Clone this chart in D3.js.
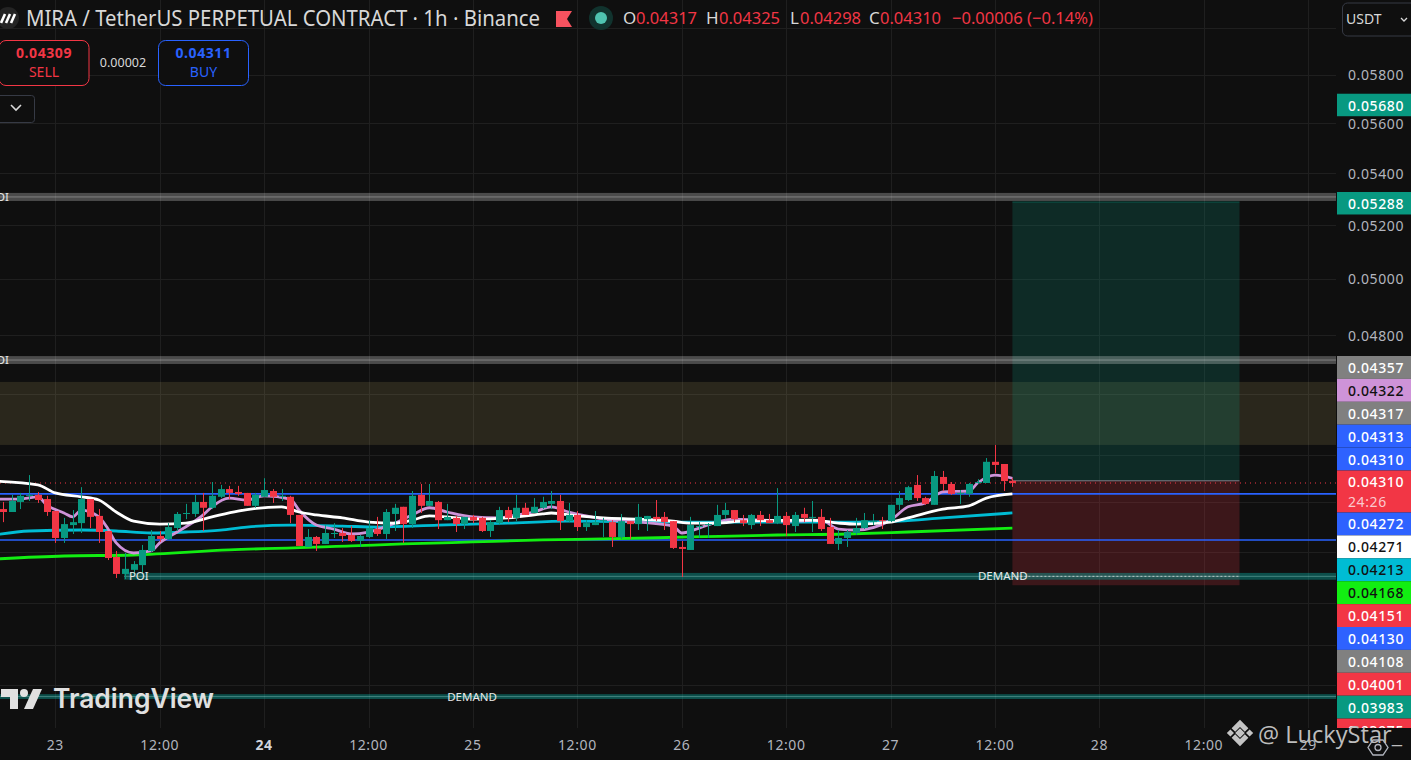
<!DOCTYPE html>
<html lang="en">
  <head>
    <meta charset="UTF-8" />
    <title>MIRA / TetherUS 1h</title>
    <script src="https://d3js.org/d3.v7.min.js"></script>
    <style>
      html, body { margin: 0; background: #0f0f0f; overflow: hidden; }
      svg { display: block; }
      text { font-family: "Noto Sans", sans-serif; }
      .axis text { fill: #b2b5be; font-size: 14px; letter-spacing: 0.6px; }
      .axis path { display: none; }
    </style>
  </head>
  <body>
    <svg id="chart" width="1411" height="760"></svg>
    <script>
      // hourly candles, first one is 18:00 on the 22nd, hour 0 = the 23rd 00:00
      const firstHour = -6
      const candleOpen = [
        0.04229,0.04220,0.04251,0.04270,0.04273,0.04260,
        0.04223,0.04141,0.04180,0.04186,0.04260,0.04208,0.04162,0.04084,0.04034,0.04046,
        0.04060,0.04102,0.04147,0.04138,0.04171,0.04214,0.04214,0.04251,0.04233,0.04267,
        0.04291,0.04282,0.04279,0.04239,0.04267,0.04285,0.04267,0.04267,0.04211,0.04114,
        0.04144,0.04123,0.04153,0.04156,0.04150,0.04132,0.04144,0.04168,0.04153,0.04214,
        0.04236,0.04183,0.04273,0.04239,0.04251,0.04195,0.04202,0.04183,0.04205,0.04202,
        0.04162,0.04186,0.04226,0.04202,0.04233,0.04217,0.04233,0.04245,0.04254,0.04192,
        0.04211,0.04174,0.04180,0.04192,0.04189,0.04144,0.04192,0.04183,0.04198,0.04205,
        0.04205,0.04192,0.04114,0.04105,0.04174,0.04180,0.04177,0.04211,0.04226,0.04195,
        0.04180,0.04211,0.04195,0.04186,0.04208,0.04177,0.04214,0.04202,0.04205,0.04174,
        0.04123,0.04141,0.04156,0.04171,0.04189,0.04195,0.04192,0.04242,0.04257,0.04304,
        0.04263,0.04242,0.04329,0.04307,0.04276,0.04276,0.04310,0.04310,0.04377,0.04370,0.04317
      ]
      const candleHigh = [
        0.04251,0.04273,0.04279,0.04335,0.04282,0.04270,
        0.04223,0.04202,0.04226,0.04297,0.04260,0.04229,0.04162,0.04102,0.04096,0.04072,
        0.04120,0.04165,0.04162,0.04186,0.04220,0.04245,0.04273,0.04279,0.04313,0.04304,
        0.04301,0.04301,0.04279,0.04279,0.04325,0.04291,0.04291,0.04270,0.04211,0.04168,
        0.04147,0.04180,0.04186,0.04171,0.04177,0.04150,0.04195,0.04205,0.04229,0.04245,
        0.04236,0.04285,0.04307,0.04307,0.04254,0.04245,0.04208,0.04205,0.04211,0.04205,
        0.04195,0.04236,0.04236,0.04273,0.04248,0.04263,0.04267,0.04285,0.04273,0.04248,
        0.04223,0.04195,0.04223,0.04202,0.04195,0.04214,0.04192,0.04245,0.04208,0.04257,
        0.04220,0.04192,0.04132,0.04205,0.04189,0.04186,0.04242,0.04248,0.04226,0.04211,
        0.04214,0.04223,0.04214,0.04294,0.04220,0.04220,0.04233,0.04254,0.04229,0.04202,
        0.04165,0.04165,0.04202,0.04217,0.04214,0.04205,0.04242,0.04285,0.04301,0.04335,
        0.04267,0.04348,0.04348,0.04313,0.04288,0.04310,0.04322,0.04389,0.04431,0.04370,0.04325
      ]
      const candleLow = [
        0.04189,0.04220,0.04229,0.04254,0.04248,0.04208,
        0.04126,0.04126,0.04153,0.04156,0.04171,0.04126,0.04075,0.04022,0.04019,0.04034,
        0.04037,0.04099,0.04129,0.04135,0.04162,0.04198,0.04205,0.04162,0.04229,0.04263,
        0.04260,0.04270,0.04239,0.04233,0.04267,0.04248,0.04254,0.04186,0.04117,0.04114,
        0.04102,0.04123,0.04141,0.04129,0.04129,0.04114,0.04141,0.04147,0.04138,0.04162,
        0.04126,0.04171,0.04217,0.04239,0.04168,0.04195,0.04159,0.04168,0.04186,0.04159,
        0.04144,0.04180,0.04189,0.04192,0.04211,0.04217,0.04229,0.04229,0.04165,0.04189,
        0.04162,0.04162,0.04180,0.04144,0.04114,0.04138,0.04138,0.04165,0.04162,0.04192,
        0.04165,0.04108,0.04025,0.04105,0.04141,0.04141,0.04177,0.04198,0.04189,0.04177,
        0.04168,0.04177,0.04186,0.04183,0.04147,0.04159,0.04189,0.04159,0.04162,0.04123,
        0.04105,0.04114,0.04150,0.04168,0.04180,0.04168,0.04189,0.04226,0.04254,0.04254,
        0.04242,0.04242,0.04285,0.04273,0.04245,0.04267,0.04307,0.04310,0.04341,0.04285,0.04298
      ]
      const candleClose = [
        0.04220,0.04254,0.04270,0.04273,0.04257,0.04220,
        0.04141,0.04183,0.04189,0.04260,0.04205,0.04159,0.04081,0.04034,0.04049,0.04063,
        0.04105,0.04147,0.04138,0.04174,0.04214,0.04217,0.04251,0.04233,0.04270,0.04291,
        0.04279,0.04276,0.04239,0.04273,0.04288,0.04267,0.04270,0.04211,0.04117,0.04144,
        0.04123,0.04156,0.04156,0.04147,0.04132,0.04147,0.04171,0.04153,0.04220,0.04233,
        0.04183,0.04270,0.04239,0.04254,0.04195,0.04205,0.04183,0.04205,0.04195,0.04162,
        0.04189,0.04226,0.04202,0.04233,0.04211,0.04236,0.04251,0.04254,0.04192,0.04211,
        0.04174,0.04186,0.04189,0.04195,0.04144,0.04192,0.04183,0.04205,0.04208,0.04198,
        0.04189,0.04111,0.04108,0.04180,0.04177,0.04183,0.04211,0.04226,0.04198,0.04186,
        0.04211,0.04195,0.04186,0.04208,0.04180,0.04211,0.04202,0.04205,0.04168,0.04123,
        0.04141,0.04159,0.04171,0.04195,0.04192,0.04192,0.04242,0.04263,0.04297,0.04263,
        0.04245,0.04332,0.04307,0.04276,0.04279,0.04307,0.04313,0.04377,0.04367,0.04316,0.04310
      ]

      const purpleHours = [-7,-4,-2,-1,1,2,3,5,6,7,9,11,12,14,17,18,20,22,24,27,28,30,32,34,36,39,41,43,45,48,51,53,55,57,59,61,63,67,71,72,74,76,78,81,85,88,90,92,96,98,100,102,105,106,108,110]
      const purpleValues = [0.04260,0.04260,0.04267,0.04242,0.04217,0.04205,0.04226,0.04205,0.04171,0.04126,0.04096,0.04102,0.04126,0.04159,0.04211,0.04236,0.04263,0.04257,0.04270,0.04260,0.04226,0.04180,0.04168,0.04153,0.04159,0.04186,0.04211,0.04233,0.04220,0.04205,0.04202,0.04211,0.04220,0.04236,0.04220,0.04208,0.04198,0.04189,0.04177,0.04156,0.04171,0.04189,0.04198,0.04195,0.04192,0.04195,0.04168,0.04165,0.04195,0.04236,0.04248,0.04282,0.04285,0.04310,0.04335,0.04325]
      const whiteHours = [-7,-2,0,3,5,7,9,12,15,18,21,26,28,30,33,36,39,41,43,45,48,52,56,57,60,63,67,71,73,76,79,87,90,92,96,98,102,105,107,110]
      const whiteValues = [0.04316,0.04304,0.04279,0.04267,0.04257,0.04220,0.04192,0.04183,0.04186,0.04205,0.04223,0.04236,0.04220,0.04211,0.04202,0.04189,0.04186,0.04195,0.04208,0.04205,0.04198,0.04202,0.04214,0.04217,0.04208,0.04202,0.04198,0.04192,0.04186,0.04186,0.04192,0.04195,0.04186,0.04183,0.04189,0.04202,0.04229,0.04239,0.04263,0.04276]
      const cyanHours = [-7,-3,3,7,11,15,19,22,27,33,37,44,52,59,71,87,92,97,102,110]
      const cyanValues = [0.04150,0.04162,0.04165,0.04162,0.04156,0.04159,0.04165,0.04174,0.04180,0.04177,0.04174,0.04180,0.04186,0.04192,0.04189,0.04189,0.04189,0.04192,0.04202,0.04217]
      const greenHours = [-7,1,9,20,34,40,48,56,63,73,83,91,98,110]
      const greenValues = [0.04078,0.04087,0.04090,0.04105,0.04117,0.04123,0.04129,0.04135,0.04138,0.04144,0.04150,0.04153,0.04159,0.04171]

      // levels and zones drawn on the chart
      const blueLevels = [0.04276, 0.04135]
      const lastPrice = 0.0431
      const poiBands = [[0.05323, 0.05292], [0.04727, 0.047]]
      const demandBands = [[0.04037, 0.04017], [0.03696, 0.03683]]
      const demandStartHours = [7.9, -7]
      const yellowZone = [0.04639, 0.04431]
      const positionHours = [110, 136.1]
      const takeProfit = 0.05288
      const entryPrice = 0.04317
      const stopLoss = 0.04001

      // axes
      const gridPrices = [0.06,0.058,0.056,0.054,0.052,0.05,0.048,0.046,0.044,0.0425,0.041,0.0395,0.0383,0.0372]
      const priceTicks = [0.058,0.056,0.054,0.052,0.05,0.048]
      const timeTickHours = [0,12,24,36,48,60,72,84,96,108,120,132,144]
      const timeTickLabels = ['23','12:00','24','12:00','25','12:00','26','12:00','27','12:00','28','12:00','29']

      // the pile of price tags on the right
      const tagLabels = ['0.04357','0.04322','0.04317','0.04313','0.04310','0.04310','0.04272','0.04271','0.04213','0.04168','0.04151','0.04130','0.04108','0.04001','0.03983','0.03975']
      const tagColors = ['#808080','#ce93d8','#808080','#2e62ff','#2e62ff','#f23645','#2e62ff','#ffffff','#00bcd4','#12ee12','#f23645','#2e62ff','#808080','#f23645','#089981','#f23645']
      const tagTextColors = ['#fff','#111','#fff','#fff','#fff','#fff','#fff','#111','#111','#111','#fff','#fff','#fff','#fff','#fff','#fff']

      const headerKeys = ['O','H','L','C']
      const headerValues = ['0.04317','0.04325','0.04298','0.04310']

      const plotRight = 1336, plotBottom = 728
      const up = '#089981', down = '#f23645', blue = '#2962ff'

      const svg = d3.select('#chart')
      const x = d3.scaleLinear().domain([0, 108]).range([55.3, 995])
      const y = d3.scaleLog().domain([0.058, lastPrice]).range([75, 483])

      svg.append('clipPath').attr('id', 'plot').append('rect')
        .attr('width', plotRight).attr('height', plotBottom)
      svg.append('clipPath').attr('id', 'axisclip').append('rect')
        .attr('x', plotRight).attr('width', 80).attr('height', plotBottom)

      const plot = svg.append('g').attr('clip-path', 'url(#plot)')

      // grid
      plot.selectAll('.hgrid').data(gridPrices).enter().append('line')
        .attr('x1', 0).attr('x2', plotRight)
        .attr('y1', d => Math.round(y(d)) + 0.5).attr('y2', d => Math.round(y(d)) + 0.5)
        .attr('stroke', '#1f1f1f')
      plot.selectAll('.vgrid').data(timeTickHours).enter().append('line')
        .attr('x1', d => Math.round(x(d)) + 0.5).attr('x2', d => Math.round(x(d)) + 0.5)
        .attr('y1', 0).attr('y2', plotBottom)
        .attr('stroke', '#1f1f1f')

      // yellow zone
      plot.append('rect')
        .attr('x', 0).attr('width', plotRight)
        .attr('y', y(yellowZone[0])).attr('height', y(yellowZone[1]) - y(yellowZone[0]))
        .attr('fill', 'rgba(230,210,120,0.125)')

      // long position box
      const px0 = x(positionHours[0]), px1 = x(positionHours[1])
      plot.append('rect').attr('x', px0).attr('width', px1 - px0)
        .attr('y', y(takeProfit)).attr('height', y(entryPrice) - y(takeProfit))
        .attr('fill', 'rgba(8,153,129,0.2)')
      plot.append('line').attr('x1', px0).attr('x2', px1)
        .attr('y1', y(takeProfit)).attr('y2', y(takeProfit))
        .attr('stroke', 'rgba(8,153,129,0.45)')
      plot.append('rect').attr('x', px0).attr('width', px1 - px0)
        .attr('y', y(entryPrice)).attr('height', y(stopLoss) - y(entryPrice))
        .attr('fill', 'rgba(242,54,69,0.2)')
      plot.append('line').attr('x1', px0).attr('x2', px1)
        .attr('y1', y(entryPrice)).attr('y2', y(entryPrice))
        .attr('stroke', '#787b86').attr('stroke-width', 1)

      // poi and demand bands
      function band(d, start, fill, center) {
        const x0 = start === null ? 0 : x(start)
        plot.append('rect').attr('x', x0).attr('width', plotRight - x0)
          .attr('y', y(d[0])).attr('height', y(d[1]) - y(d[0])).attr('fill', fill)
        plot.append('line').attr('x1', x0).attr('x2', plotRight)
          .attr('y1', (y(d[0]) + y(d[1])) / 2).attr('y2', (y(d[0]) + y(d[1])) / 2)
          .attr('stroke', center)
      }
      poiBands.forEach(d => band(d, null, 'rgba(255,255,255,0.25)', 'rgba(255,255,255,0.3)'))
      demandBands.forEach((d, i) => band(d, demandStartHours[i], 'rgba(10,170,160,0.42)', 'rgba(200,255,250,0.3)'))
      plot.append('line').attr('x1', px0).attr('x2', px1)
        .attr('y1', d3.mean(demandBands[0].map(y))).attr('y2', d3.mean(demandBands[0].map(y)))
        .attr('stroke', '#b8c4c4').attr('stroke-dasharray', '2 2')

      // blue levels
      plot.selectAll('.level').data(blueLevels).enter().append('line')
        .attr('x1', 0).attr('x2', plotRight)
        .attr('y1', d => y(d)).attr('y2', d => y(d))
        .attr('stroke', blue).attr('stroke-width', 1.6)

      // last price dots
      plot.append('line').attr('x1', 0).attr('x2', plotRight)
        .attr('y1', y(lastPrice)).attr('y2', y(lastPrice))
        .attr('stroke', down).attr('stroke-dasharray', '1 4')

      // moving averages
      const maLine = d3.line().x(d => x(d[0])).y(d => y(d[1])).curve(d3.curveMonotoneX)
      const maSeries = [
        [greenHours, greenValues, '#12ee12'],
        [cyanHours, cyanValues, '#00bcd4'],
        [purpleHours, purpleValues, '#ce93d8'],
        [whiteHours, whiteValues, '#ffffff']
      ]
      maSeries.forEach(s => {
        plot.append('path')
          .datum(d3.zip(s[0], s[1]))
          .attr('fill', 'none').attr('stroke', s[2]).attr('stroke-width', 2.8)
          .attr('d', maLine)
      })

      // candles
      const candles = plot.selectAll('.candle').data(candleOpen).enter().append('g')
      const colorOf = (d, i) => (candleClose[i] >= d ? up : down)
      const hourOf = i => firstHour + i
      candles.append('line')
        .attr('x1', (d, i) => Math.round(x(hourOf(i))) + 0.5)
        .attr('x2', (d, i) => Math.round(x(hourOf(i))) + 0.5)
        .attr('y1', (d, i) => y(candleHigh[i]))
        .attr('y2', (d, i) => y(candleLow[i]))
        .attr('stroke', colorOf)
      candles.append('rect')
        .attr('x', (d, i) => Math.round(x(hourOf(i))) - 3)
        .attr('width', 7)
        .attr('y', (d, i) => y(Math.max(d, candleClose[i])))
        .attr('height', (d, i) => Math.max(1, Math.abs(y(d) - y(candleClose[i]))))
        .attr('fill', colorOf)

      // zone captions
      const caption = (px, price, txt, anchor) =>
        plot.append('text').attr('x', px).attr('y', y(price)).attr('dy', '0.35em')
          .attr('text-anchor', anchor || 'middle')
          .attr('fill', '#e8e8e8').attr('font-size', 11.5)
          .text(txt)
      caption(9, d3.mean(poiBands[0]), 'POI', 'end')
      caption(9, d3.mean(poiBands[1]), 'POI', 'end')
      caption(x(9.6), d3.mean(demandBands[0]), 'POI')
      caption(x(108.9), d3.mean(demandBands[0]), 'DEMAND')
      caption(x(47.9), d3.mean(demandBands[1]), 'DEMAND')

      // axes
      svg.append('g').attr('class', 'axis')
        .attr('transform', 'translate(' + plotRight + ',0.5)')
        .call(d3.axisRight(y).tickValues(priceTicks).tickSize(0).tickPadding(12).tickFormat(d3.format('.5f')))
      const timeAxis = svg.append('g').attr('class', 'axis')
        .attr('transform', 'translate(-0.5,' + plotBottom + ')')
        .call(d3.axisBottom(x).tickValues(timeTickHours).tickSize(0).tickPadding(12)
          .tickFormat((d, i) => timeTickLabels[i]))
      timeAxis.selectAll('text').filter(d => d === 24).attr('font-weight', 700).style('fill', '#d1d4dc')

      // single tags above the pile
      function tag(g, top, h, fill, color, txt) {
        g.append('rect').attr('x', plotRight + 1).attr('y', top).attr('width', 75).attr('height', h).attr('fill', fill)
        g.append('text').attr('x', plotRight + 12).attr('y', top + 12).attr('dy', '0.35em')
          .attr('fill', color).attr('font-size', 14).attr('font-weight', 500).attr('letter-spacing', 0.6)
          .text(txt)
      }
      tag(svg, y(0.0568) - 10, 22.5, up, '#fff', '0.05680')
      tag(svg, y(takeProfit) - 10, 22.5, up, '#fff', '0.05288')

      const pile = svg.append('g').attr('clip-path', 'url(#axisclip)')
      let tagTop = 356
      tagLabels.forEach((t, i) => {
        const h = i === 5 ? 42 : 22.9
        tag(pile, tagTop, h, tagColors[i], tagTextColors[i], t)
        if (i === 5) {
          pile.append('text').attr('x', plotRight + 12).attr('y', tagTop + 32).attr('dy', '0.35em')
            .attr('fill', '#fbc9ce').attr('font-size', 14).attr('letter-spacing', 0.6).text('24:26')
        }
        tagTop += h
      })

      // header
      svg.append('circle').attr('cx', 8).attr('cy', 18).attr('r', 11).attr('fill', '#242424')
      ;[3, 8, 13].forEach(d => {
        svg.append('line').attr('x1', d - 2).attr('x2', d + 2).attr('y1', 23).attr('y2', 14)
          .attr('stroke', '#fff').attr('stroke-width', 2.6)
      })
      svg.append('text').attr('x', 26).attr('y', 26)
        .attr('font-size', 21).attr('fill', '#d8d8d8')
        .attr('textLength', 514).attr('lengthAdjust', 'spacingAndGlyphs')
        .text('MIRA / TetherUS PERPETUAL CONTRACT · 1h · Binance')
      svg.append('path').attr('d', 'M556 11h16l-5 8 5 8h-16z').attr('fill', '#f7525f')
      svg.append('circle').attr('cx', 601).attr('cy', 18).attr('r', 12).attr('fill', '#11332e')
      svg.append('circle').attr('cx', 601).attr('cy', 18).attr('r', 6).attr('fill', '#4fc3b0')

      const keyX = [623, 706, 790, 869]
      const valX = [636, 719, 800, 880]
      headerKeys.forEach((k, i) => {
        svg.append('text').attr('x', keyX[i]).attr('y', 24).attr('font-size', 17).attr('fill', '#d8d8d8').text(k)
        svg.append('text').attr('x', valX[i]).attr('y', 24).attr('font-size', 17).attr('fill', down)
          .attr('textLength', 61).attr('lengthAdjust', 'spacingAndGlyphs').text(headerValues[i])
      })
      svg.append('text').attr('x', 952).attr('y', 24).attr('font-size', 17).attr('fill', down)
        .attr('textLength', 141).attr('lengthAdjust', 'spacingAndGlyphs').text('−0.00006 (−0.14%)')

      // trade buttons
      function tradeButton(bx, w, color, price, side) {
        svg.append('rect').attr('x', bx).attr('y', 40.5).attr('width', w).attr('height', 45).attr('rx', 7)
          .attr('fill', '#0f0f0f').attr('stroke', color)
        svg.append('text').attr('x', bx + w / 2).attr('y', 58).attr('text-anchor', 'middle')
          .attr('font-size', 14).attr('font-weight', 700).attr('fill', color).attr('letter-spacing', 0.6).text(price)
        svg.append('text').attr('x', bx + w / 2).attr('y', 77).attr('text-anchor', 'middle')
          .attr('font-size', 14).attr('fill', color).text(side)
      }
      tradeButton(-1, 90, down, '0.04309', 'SELL')
      tradeButton(158.5, 90, '#2962ff', '0.04311', 'BUY')
      svg.append('text').attr('x', 123).attr('y', 67).attr('text-anchor', 'middle')
        .attr('font-size', 12.5).attr('fill', '#d8d8d8').text('0.00002')

      svg.append('rect').attr('x', -8).attr('y', 95.5).attr('width', 42.5).attr('height', 27).attr('rx', 3)
        .attr('fill', 'none').attr('stroke', '#363a45')
      svg.append('path').attr('d', 'M11 105l5 5 5-5').attr('fill', 'none').attr('stroke', '#d8d8d8').attr('stroke-width', 1.6)

      svg.append('rect').attr('x', 1342.5).attr('y', 3).attr('width', 80).attr('height', 33).attr('rx', 5)
        .attr('fill', 'none').attr('stroke', '#363a45')
      svg.append('text').attr('x', 1346).attr('y', 24).attr('font-size', 14).attr('fill', '#d8d8d8').text('USDT')
      svg.append('path').attr('d', 'M1401 18l3 3 3-3').attr('fill', 'none').attr('stroke', '#d8d8d8').attr('stroke-width', 1.3)

      // watermarks
      svg.append('path').attr('d', 'M1 689h17v20h-8v-12H1z').attr('fill', '#e0e0e0')
      svg.append('circle').attr('cx', 24).attr('cy', 693).attr('r', 4).attr('fill', '#e0e0e0')
      svg.append('path').attr('d', 'M33 689h9l-9 20h-9z').attr('fill', '#e0e0e0')
      svg.append('text').attr('x', 53).attr('y', 708)
        .attr('font-size', 27).attr('font-weight', 600).attr('fill', '#e0e0e0')
        .style('font-family', 'Inter, sans-serif')
        .attr('textLength', 161).attr('lengthAdjust', 'spacingAndGlyphs')
        .text('TradingView')

      svg.append('path').attr('transform', 'translate(1240,733) scale(1.2) translate(-1240,-733)')
        .attr('d', 'M1240 722l7 7-3 3-4-4-4 4-3-3zM1240 744l7-7-3-3-4 4-4-4-3 3zM1240 729l4 4-4 4-4-4zM1229 733l3-3 3 3-3 3zM1245 733l3-3 3 3-3 3z')
        .attr('fill', '#c4c4c4')
      svg.append('text').attr('x', 1258).attr('y', 743)
        .attr('font-size', 24).attr('fill', '#bdbdbd').style('font-family', '"Open Sans", sans-serif')
        .attr('textLength', 144).attr('lengthAdjust', 'spacingAndGlyphs')
        .text('@ LuckyStar_')

      // settings icon in the corner
      svg.append('path').attr('d', 'M1373 740h10l5 7.5-5 7.5h-10l-5-7.5z').attr('fill', 'none').attr('stroke', '#b2b5be').attr('stroke-width', 1.3)
      svg.append('circle').attr('cx', 1378).attr('cy', 747.5).attr('r', 3).attr('fill', 'none').attr('stroke', '#b2b5be').attr('stroke-width', 1.3)
    </script>
  </body>
</html>
